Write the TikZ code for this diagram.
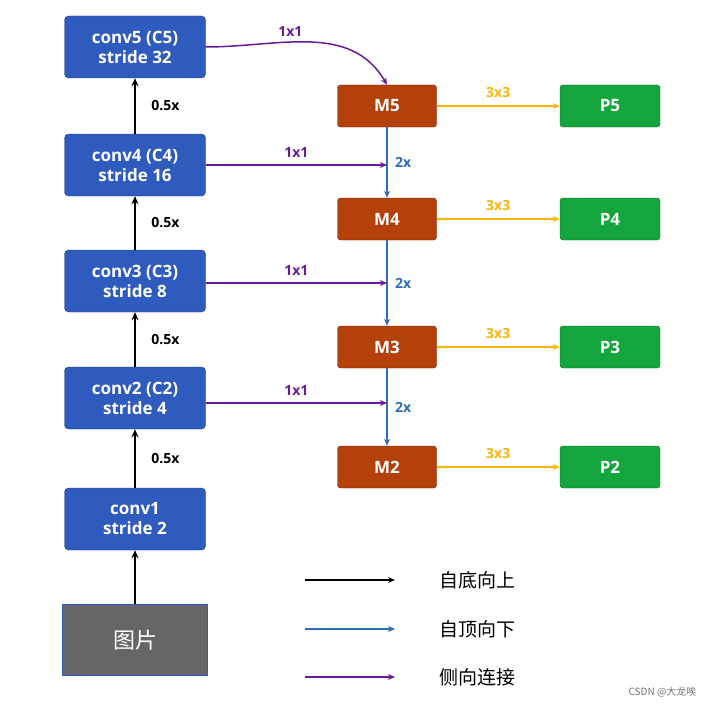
\documentclass[tikz,border=0pt]{standalone}
\usepackage{fontspec}
\setmainfont{Open Sans}
\newfontfamily\cjk{Noto Sans CJK SC}
\usetikzlibrary{arrows.meta}
\definecolor{cblue}{HTML}{2F5BBF}
\definecolor{mbrown}{HTML}{B4400A}
\definecolor{pgreen}{HTML}{14A63C}
\definecolor{purp}{HTML}{6A1B9A}
\definecolor{ablue}{HTML}{2E6DB5}
\definecolor{org}{HTML}{FFB400}
\begin{document}
\begin{tikzpicture}[x=1pt,y=-1pt,
 cbox/.style={draw=cblue!70!black,fill=cblue,rounded corners=4pt,minimum width=141pt,minimum height=62pt,text=white,font=\bfseries\fontsize{17}{20}\selectfont,align=center},
 mbox/.style={draw=mbrown!60!black,fill=mbrown,rounded corners=3pt,minimum width=99pt,minimum height=42pt,text=white,font=\bfseries\fontsize{17}{20}\selectfont},
 pbox/.style={draw=pgreen!60!black,fill=pgreen,rounded corners=3pt,minimum width=100pt,minimum height=42pt,text=white,font=\bfseries\fontsize{17}{20}\selectfont},
 up/.style={-{Stealth[length=8pt,width=7pt]},line width=2pt,black},
 dn/.style={-{Stealth[length=7pt,width=6pt]},line width=1.5pt,ablue},
 lat/.style={-{Stealth[length=7pt,width=6pt]},line width=1.5pt,purp},
 sm/.style={-{Stealth[length=7pt,width=6pt]},line width=1.5pt,org},
 lb/.style={font=\bfseries\fontsize{14}{16}\selectfont}]
\useasboundingbox (0,0) rectangle (715,709);
\node[cbox] (c5) at (135,47) {conv5 (C5)\\stride 32};
\node[cbox] (c4) at (135,165) {conv4 (C4)\\stride 16};
\node[cbox] (c3) at (135,281) {conv3 (C3)\\stride 8};
\node[cbox] (c2) at (135,398) {conv2 (C2)\\stride 4};
\node[cbox] (c1) at (135,519) {conv1\\stride 2};
\node[draw=cblue,fill=black!60,minimum width=145pt,minimum height=71pt,text=white,font=\cjk\fontsize{22}{24}\selectfont] (img) at (135,640) {图片};
\foreach \n/\y in {5/106,4/219,3/347,2/467}{
 \node[mbox] (m\n) at (387,\y) {M\n};
 \node[pbox] (p\n) at (610,\y) {P\n};
 \draw[sm] (m\n) -- node[above=4pt,lb,text=org]{3x3} (p\n);
}
\draw[up] (img) -- (c1);
\draw[up] (c1) -- node[right=12pt,lb]{0.5x} (c2);
\draw[up] (c2) -- node[right=12pt,lb]{0.5x} (c3);
\draw[up] (c3) -- node[right=12pt,lb]{0.5x} (c4);
\draw[up] (c4) -- node[right=12pt,lb]{0.5x} (c5);
\draw[dn] (m5) -- node[right=4pt,lb,text=ablue]{2x} (m4);
\draw[dn] (m4) -- node[right=4pt,lb,text=ablue]{2x} (m3);
\draw[dn] (m3) -- node[right=4pt,lb,text=ablue]{2x} (m2);
\draw[lat] (c5.east) to[out=0,in=120] node[pos=0.4,above=2pt,lb,text=purp]{1x1} (m5.north);
\coordinate (t4) at (387,165);
\coordinate (t3) at (387,283);
\coordinate (t2) at (387,403);
\draw[lat] (c4.east |- t4) -- node[above=3pt,lb,text=purp]{1x1} (t4);
\draw[lat] (c3.east |- t3) -- node[above=3pt,lb,text=purp]{1x1} (t3);
\draw[lat] (c2.east |- t2) -- node[above=3pt,lb,text=purp]{1x1} (t2);
\coordinate (a1) at (305,580); \coordinate (b1) at (395,580);
\coordinate (a2) at (305,629); \coordinate (b2) at (395,629);
\coordinate (a3) at (305,677); \coordinate (b3) at (395,677);
\draw[-{Stealth[length=7pt,width=6pt]},line width=1.5pt,black] (a1) -- (b1);
\draw[dn] (a2) -- (b2);
\draw[lat] (a3) -- (b3);
\node[anchor=west,font=\cjk\fontsize{19}{22}\selectfont] (l1) at (436,580) {自底向上};
\node[anchor=west,font=\cjk\fontsize{19}{22}\selectfont] (l2) at (436,629) {自顶向下};
\node[anchor=west,font=\cjk\fontsize{19}{22}\selectfont] (l3) at (436,677) {侧向连接};
\node[anchor=east,text=black!55,font=\cjk\fontsize{10}{12}\selectfont] (wm) at (700,692) {CSDN @大龙唉};
\end{tikzpicture}
\end{document}
